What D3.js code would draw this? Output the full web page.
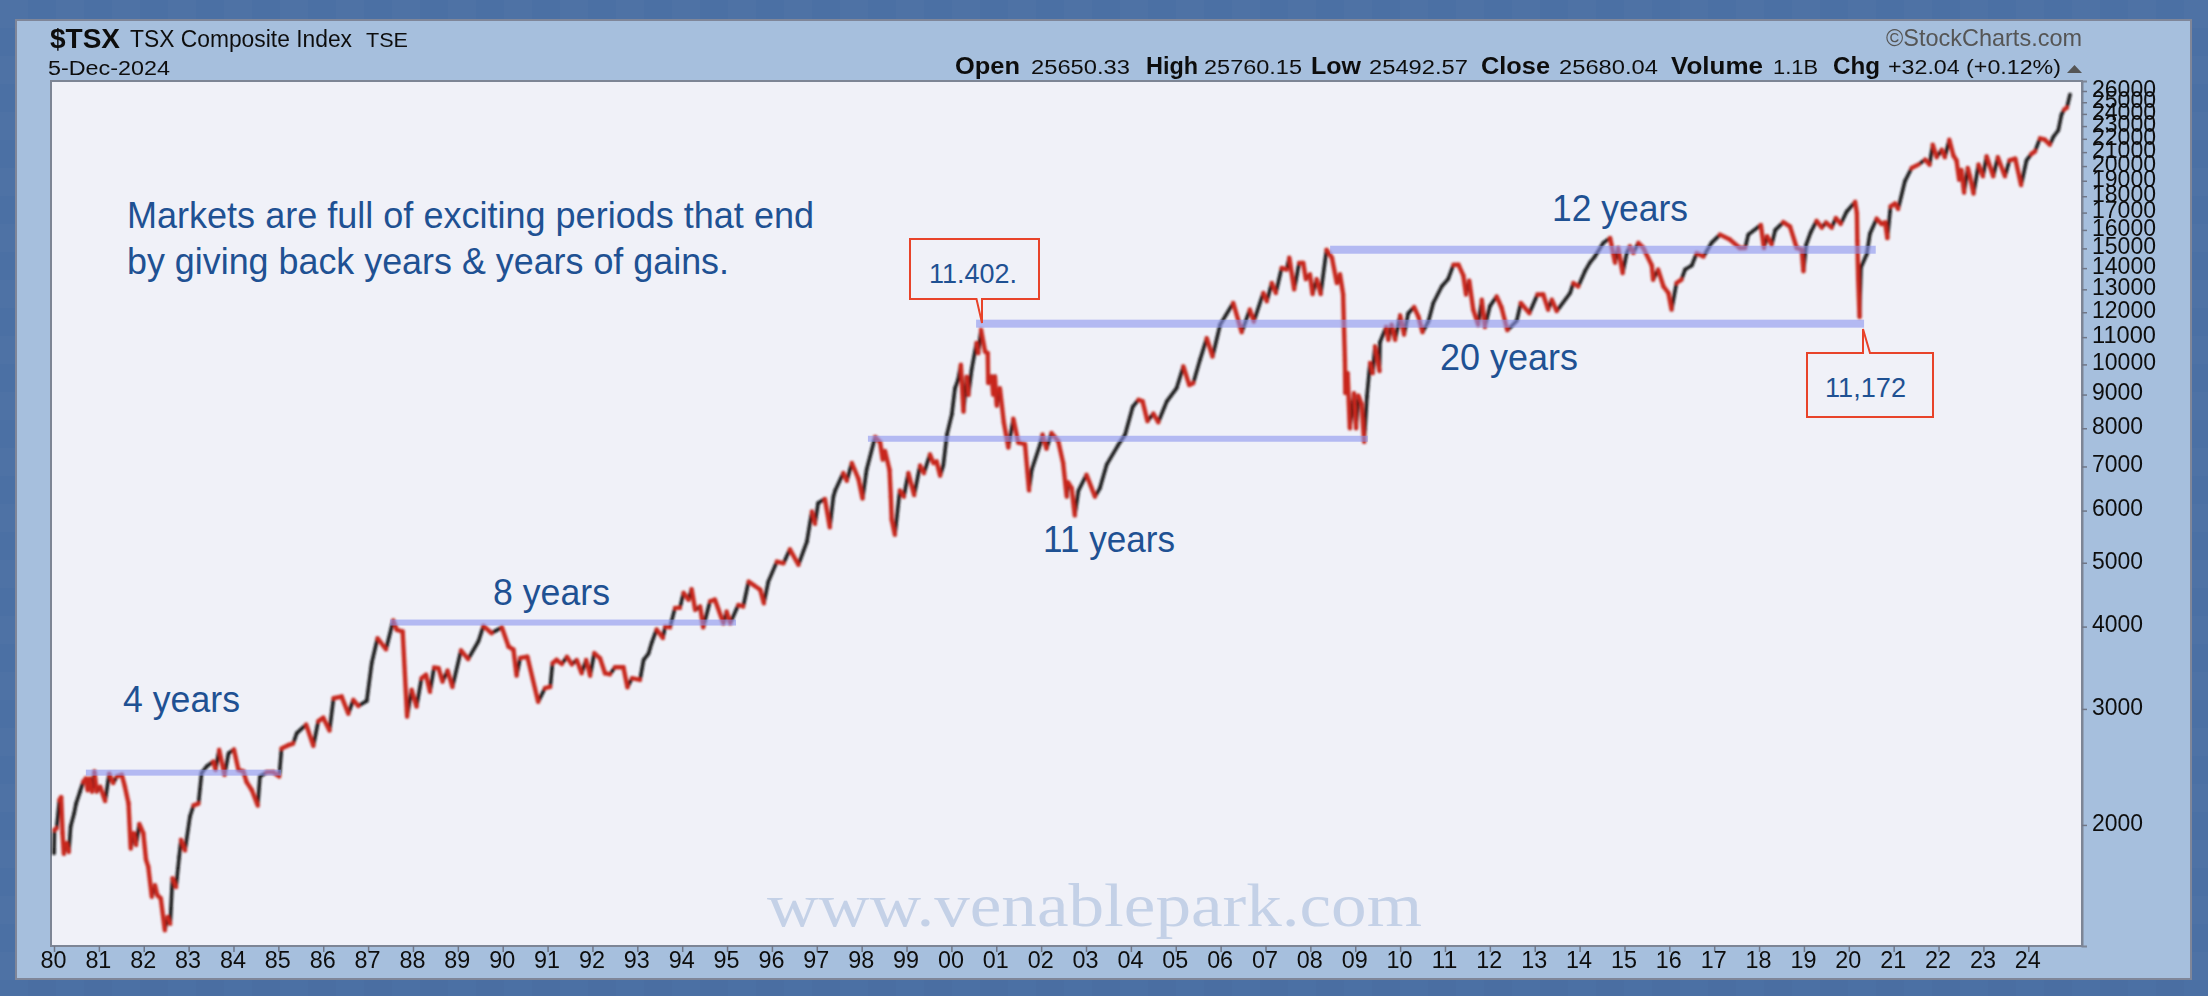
<!DOCTYPE html>
<html><head><meta charset="utf-8">
<style>html,body{margin:0;padding:0;background:#4b70a4;overflow:hidden}svg{display:block}
text{font-family:"Liberation Sans",Arial,sans-serif}</style>
<script src="https://cdn.jsdelivr.net/npm/d3@7/dist/d3.min.js"></script></head><body>
<script>
// [decimal year, index level]
const closes1980s=[[1980.00,1810],[1980.01,1966],[1980.06,1977],[1980.12,2183],[1980.16,2203],[1980.19,1943],[1980.22,1808],[1980.28,1876],[1980.33,1820],[1980.37,1989],[1980.45,2084],[1980.49,2153],[1980.58,2247],[1980.65,2325],[1980.71,2352],[1980.75,2258],[1980.80,2352],[1980.85,2247],[1980.90,2411],[1980.95,2247],[1981.03,2286],[1981.14,2175],[1981.23,2391],[1981.32,2315],[1981.40,2369],[1981.51,2383],[1981.58,2286],[1981.66,2158],[1981.71,1842],[1981.78,1943],[1981.83,1865],[1981.90,2007],[1981.99,1943],[1982.05,1772],[1982.10,1729],[1982.18,1556],[1982.25,1620],[1982.30,1565],[1982.38,1547],[1982.47,1384],[1982.53,1449],[1982.59,1416],[1982.64,1660],[1982.72,1610],[1982.79,1790],[1982.83,1898],[1982.92,1830],[1983.03,2060],[1983.11,2142],[1983.22,2155],[1983.29,2400],[1983.40,2453],[1983.55,2496],[1983.60,2425],[1983.68,2600],[1983.80,2383],[1983.89,2568],[1984.01,2604],[1984.11,2425],[1984.22,2411],[1984.29,2325],[1984.41,2258],[1984.54,2140],[1984.59,2369],[1984.74,2405],[1984.89,2405],[1985.02,2369],[1985.07,2612],[1985.22,2643],[1985.33,2658],[1985.41,2756],[1985.62,2840],[1985.78,2637],[1985.89,2874],[1986.00,2908],[1986.14,2782],[1986.23,3114],[1986.41,3132],[1986.56,2951],[1986.67,3096],[1986.78,3031],[1986.97,3085],[1987.08,3520],[1987.21,3840],[1987.40,3695],[1987.56,4086],[1987.64,3955],[1987.77,3932],[1987.87,2921],[1987.97,3207],[1988.08,3025],[1988.19,3340],[1988.29,3380],[1988.38,3185],[1988.47,3467],[1988.57,3460],[1988.66,3300],[1988.77,3430],[1988.88,3240],[1989.07,3680],[1989.23,3570],[1989.46,3800],[1989.57,4010],[1989.75,3909],[1989.98,3990]];
const closes1990s=[[1990.13,3730],[1990.24,3690],[1990.31,3370],[1990.39,3585],[1990.55,3600],[1990.79,3075],[1990.94,3225],[1991.06,3240],[1991.11,3520],[1991.20,3560],[1991.32,3510],[1991.43,3600],[1991.54,3505],[1991.65,3560],[1991.76,3399],[1991.86,3560],[1991.95,3370],[1992.04,3645],[1992.17,3580],[1992.28,3399],[1992.39,3385],[1992.50,3470],[1992.69,3470],[1992.78,3235],[1992.88,3340],[1993.06,3320],[1993.14,3560],[1993.25,3640],[1993.32,3780],[1993.43,3960],[1993.57,3845],[1993.62,4000],[1993.73,3990],[1993.84,4270],[1993.95,4270],[1994.03,4500],[1994.14,4395],[1994.21,4560],[1994.29,4240],[1994.40,4291],[1994.47,3990],[1994.62,4370],[1994.73,4395],[1994.92,4048],[1994.99,4215],[1995.07,4048],[1995.25,4315],[1995.36,4291],[1995.48,4680],[1995.59,4625],[1995.74,4549],[1995.82,4340],[1995.92,4680],[1996.11,5020],[1996.26,4990],[1996.40,5240],[1996.59,4965],[1996.78,5385],[1996.89,5980],[1996.96,5730],[1997.03,6160],[1997.18,6250],[1997.29,5660],[1997.37,6300],[1997.41,6435],[1997.59,6840],[1997.67,6660],[1997.78,7085],[1997.93,6700],[1998.02,6260],[1998.11,6920],[1998.30,7760],[1998.41,7620],[1998.47,7170],[1998.52,7390],[1998.62,6920],[1998.65,6300],[1998.67,5815],[1998.74,5515],[1998.85,6435],[1998.94,6300],[1999.04,6840],[1999.17,6335],[1999.30,7020],[1999.39,6840],[1999.52,7300],[1999.60,7085],[1999.67,7120],[1999.75,6780],[1999.82,7030],[1999.90,7825]];
const closes2000s=[[2000.01,8400],[2000.08,9200],[2000.15,9480],[2000.21,9990],[2000.27,8480],[2000.34,9580],[2000.38,8990],[2000.45,9815],[2000.56,10780],[2000.60,10400],[2000.66,11290],[2000.75,10460],[2000.81,10400],[2000.82,9370],[2000.90,9590],[2000.93,9000],[2000.97,9590],[2001.01,8660],[2001.08,9200],[2001.17,8150],[2001.27,7480],[2001.38,8270],[2001.49,7610],[2001.64,7570],[2001.73,6440],[2001.79,6920],[2001.98,7570],[2002.03,7825],[2002.12,7450],[2002.23,7867],[2002.38,7650],[2002.49,7085],[2002.57,6300],[2002.60,6620],[2002.68,6490],[2002.75,5900],[2002.83,6430],[2003.01,6800],[2003.20,6300],[2003.31,6490],[2003.46,7045],[2003.72,7550],[2003.87,7820],[2004.04,8620],[2004.17,8839],[2004.26,8790],[2004.37,8200],[2004.50,8420],[2004.61,8170],[2004.80,8790],[2005.02,9207],[2005.17,9931],[2005.30,9310],[2005.39,9365],[2005.54,10160],[2005.69,10960],[2005.82,10280],[2005.99,11490],[2006.28,12395],[2006.47,11190],[2006.65,12110],[2006.74,11620],[2006.95,12835],[2007.03,12470],[2007.14,13290],[2007.23,12835],[2007.36,14010],[2007.47,13930],[2007.53,14520],[2007.64,13000],[2007.75,14260],[2007.84,14260],[2007.90,13470],[2007.99,13700],[2008.05,12790],[2008.14,13470],[2008.23,12790],[2008.36,14930],[2008.48,14520],[2008.59,13290],[2008.66,13700],[2008.73,12770],[2008.75,11340],[2008.77,10150],[2008.78,9050],[2008.83,9700],[2008.88,8000],[2008.97,9040],[2009.02,8000],[2009.07,8965],[2009.14,8710],[2009.20,7630],[2009.26,8930],[2009.33,10050],[2009.39,9700],[2009.44,10650],[2009.54,9770],[2009.55,10800],[2009.69,11400],[2009.74,10900],[2009.81,11490],[2009.89,10900]];
const closes2010s=[[2010.00,11870],[2010.09,11100],[2010.18,11950],[2010.31,12220],[2010.41,11810],[2010.50,11190],[2010.63,11620],[2010.74,12395],[2010.93,13140],[2011.07,13470],[2011.19,14170],[2011.30,14170],[2011.41,13640],[2011.47,12770],[2011.54,13400],[2011.63,12110],[2011.74,11490],[2011.82,12539],[2011.89,11400],[2012.00,12250],[2012.15,12680],[2012.26,12200],[2012.39,11270],[2012.60,11650],[2012.69,12395],[2012.88,11960],[2013.06,12770],[2013.19,12770],[2013.30,12110],[2013.38,12539],[2013.49,12050],[2013.79,12834],[2013.86,13290],[2013.97,13130],[2014.12,13850],[2014.23,14270],[2014.34,14580],[2014.53,15290],[2014.68,15560],[2014.79,14270],[2014.86,15020],[2014.96,13760],[2015.05,14750],[2015.12,15109],[2015.20,14770],[2015.31,15290],[2015.42,15020],[2015.61,14130],[2015.64,13446],[2015.75,13930],[2015.87,13130],[2015.98,12834],[2016.05,12110],[2016.16,13290],[2016.27,13446],[2016.35,13930],[2016.50,14130],[2016.61,14750],[2016.76,14580],[2016.94,15290],[2017.13,15740],[2017.35,15470],[2017.57,15020],[2017.69,15020],[2017.76,15740],[2018.04,16280],[2018.11,15020],[2018.18,15650],[2018.28,15200],[2018.36,15990],[2018.54,16440],[2018.69,16190],[2018.84,15020],[2018.95,14940],[2018.99,13850],[2019.05,15200],[2019.15,15860],[2019.28,16510],[2019.40,16130],[2019.49,16420],[2019.62,16130],[2019.71,16680],[2019.82,16340],[2019.95,17050]];
const closes2020s=[[2020.14,17650],[2020.18,16975],[2020.19,15400],[2020.21,13446],[2020.24,11800],[2020.27,14030],[2020.40,14700],[2020.47,15790],[2020.62,16640],[2020.73,16340],[2020.81,16420],[2020.86,15550],[2020.93,17370],[2021.03,17540],[2021.10,17220],[2021.25,18970],[2021.40,19870],[2021.55,20100],[2021.70,20460],[2021.80,20100],[2021.87,21550],[2021.96,20630],[2022.07,21180],[2022.14,20630],[2022.24,21930],[2022.33,20750],[2022.40,20400],[2022.46,19073],[2022.51,19730],[2022.57,18230],[2022.65,19870],[2022.70,19300],[2022.78,18170],[2022.89,20100],[2022.99,19300],[2023.07,20700],[2023.22,19300],[2023.32,20630],[2023.48,19300],[2023.58,20400],[2023.71,20520],[2023.84,18720],[2023.96,20400],[2024.07,20870],[2024.15,21050],[2024.26,22040],[2024.37,21930],[2024.48,21550],[2024.56,22160],[2024.67,22670],[2024.74,23940],[2024.80,24370],[2024.86,24520],[2024.93,25680]];
const yearTicks=d3.range(1980,2025);
const priceTicks=[2000,3000,4000,5000,6000,7000,8000,9000,10000,11000,12000,13000,14000,15000,16000,17000,18000,19000,20000,21000,22000,23000,24000,25000,26000];
const priceTickLabels=priceTicks.map(String);
// [from year, to year, level, thickness]
const holdBars=[[1980.71,1985.06,2401,6],[1987.49,1995.20,4057,6],[1998.14,2009.28,7712,6],[2000.55,2020.34,11530,8],[2008.44,2020.60,14930,8]];
const yearNotes=[["4 years",123,712,117],["8 years",493,605,117],["11 years",1043,552,132],["20 years",1440,370,138],["12 years",1552,221,136]];
const headerBold=[["Open",955,65],["High",1146,52],["Low",1311,50],["Close",1481,69],["Volume",1671,92],["Chg",1833,47]];
const headerPlain=[["25650.33",1031,99],["25760.15",1204,98],["25492.57",1369,99],["25680.04",1559,99],["1.1B",1773,45],["+32.04 (+0.12%)",1888,173]];

const W=2208,H=996,pl=51,pr=2082,pt=81,pb=946;
const x=d3.scaleLinear().domain([1979.933,2025.197]).range([pl,pr]);
const y=d3.scaleLog().domain([1310,26925]).range([pb,pt]);
const closes=[...closes1980s,...closes1990s,...closes2000s,...closes2010s,...closes2020s];

const svg=d3.select("body").append("svg").attr("width",W).attr("height",H);
const defs=svg.append("defs");
const pat=defs.append("pattern").attr("id","tex").attr("width",56).attr("height",56).attr("patternUnits","userSpaceOnUse");
pat.append("rect").attr("width",56).attr("height",56).attr("fill","#4b70a4");
pat.append("rect").attr("width",28).attr("height",28).attr("fill","#4e72a5");
pat.append("rect").attr("x",28).attr("y",28).attr("width",28).attr("height",28).attr("fill","#4a6ea2");
defs.append("filter").attr("id","soft").append("feGaussianBlur").attr("stdDeviation",0.8);
defs.append("filter").attr("id","softer").append("feGaussianBlur").attr("stdDeviation",0.4);

svg.append("rect").attr("width",W).attr("height",H).attr("fill","url(#tex)");
svg.append("rect").attr("x",16).attr("y",20).attr("width",2175).attr("height",959).attr("fill","#a6bfdd").attr("stroke","#7f8699").attr("stroke-width",2);
svg.append("rect").attr("x",pl).attr("y",pt).attr("width",pr-pl).attr("height",pb-pt).attr("fill","#f0f1f8").attr("stroke","#7d8595").attr("stroke-width",2);

// watermark
svg.append("text").attr("x",767).attr("y",926).attr("font-size",62).attr("textLength",655).attr("lengthAdjust","spacingAndGlyphs")
 .style("font-family","'Liberation Serif',serif").attr("fill","#c4d1e7").text("www.venablepark.com");

// axes
const gx=svg.append("g").attr("transform",`translate(0,${pb})`).attr("filter","url(#softer)")
 .call(d3.axisBottom(x).tickValues(yearTicks).tickFormat(d=>String(d).slice(2)).tickSize(6).tickPadding(0));
gx.select(".domain").remove();
gx.selectAll("line").attr("stroke","#6f7686").attr("stroke-width",1.5);
gx.selectAll("text").attr("font-size",23).attr("fill","#111").attr("dx",-1).attr("textLength",26).attr("lengthAdjust","spacingAndGlyphs").style("font-family","'Liberation Sans',sans-serif");
const gy=svg.append("g").attr("transform",`translate(${pr},0)`).attr("filter","url(#softer)")
 .call(d3.axisRight(y).tickValues(priceTicks).tickFormat((d,i)=>priceTickLabels[i]).tickSize(5).tickPadding(5));
gy.select(".domain").attr("stroke","#7d8595").attr("stroke-width",2);
gy.selectAll("line").attr("stroke","#6f7686").attr("stroke-width",1.5);
gy.selectAll("text").attr("font-size",23).attr("y",-2).attr("fill","#111").attr("textLength",d=>d>=10000?64:51).attr("lengthAdjust","spacingAndGlyphs").style("font-family","'Liberation Sans',sans-serif");

// price line: black on clear rises, red on falls and flat stretches; red sits on top
const segs=d3.pairs(closes);
const rising=d=>d[1][1]/d[0][1]>1.012;
const lineG=svg.append("g").attr("filter","url(#soft)").attr("stroke-linecap","round");
const drawSegs=(rows,col,w)=>lineG.append("g").selectAll("line").data(rows).join("line")
 .attr("x1",d=>x(d[0][0])).attr("y1",d=>y(d[0][1])).attr("x2",d=>x(d[1][0])).attr("y2",d=>y(d[1][1]))
 .attr("stroke",col).attr("stroke-width",w);
drawSegs(segs.filter(rising),"#141414",3.6);
drawSegs(segs.filter(d=>!rising(d)),"#c8281e",4.4);

// translucent bars above the line
svg.append("g").selectAll("rect").data(holdBars).join("rect")
 .attr("x",d=>x(d[0])).attr("width",d=>x(d[1])-x(d[0])).attr("y",d=>y(d[2])-d[3]/2).attr("height",d=>d[3])
 .attr("fill","rgb(138,149,238)").attr("fill-opacity",0.6);

// header
const hdr=svg.append("g").attr("filter","url(#softer)").attr("fill","#111");
hdr.append("text").attr("x",50).attr("y",48).attr("font-size",28).attr("font-weight","bold").attr("textLength",70).attr("lengthAdjust","spacingAndGlyphs").text("$TSX");
hdr.append("text").attr("x",130).attr("y",47).attr("font-size",23).attr("textLength",222).attr("lengthAdjust","spacingAndGlyphs").text("TSX Composite Index");
hdr.append("text").attr("x",366).attr("y",47).attr("font-size",20).attr("textLength",42).attr("lengthAdjust","spacingAndGlyphs").text("TSE");
hdr.append("text").attr("x",48).attr("y",75).attr("font-size",20).attr("textLength",122).attr("lengthAdjust","spacingAndGlyphs").text("5-Dec-2024");
hdr.selectAll(".b").data(headerBold).join("text").attr("class","b").attr("x",d=>d[1]).attr("y",74).attr("font-size",23).attr("font-weight","bold").attr("textLength",d=>d[2]).attr("lengthAdjust","spacingAndGlyphs").text(d=>d[0]);
hdr.selectAll(".p").data(headerPlain).join("text").attr("class","p").attr("x",d=>d[1]).attr("y",74).attr("font-size",20).attr("textLength",d=>d[2]).attr("lengthAdjust","spacingAndGlyphs").text(d=>d[0]);
hdr.append("path").attr("d","M2067,73L2082,73L2074.5,65Z").attr("fill","#555");
hdr.append("text").attr("x",1886).attr("y",46).attr("font-size",24).attr("fill","#555").attr("textLength",196).attr("lengthAdjust","spacingAndGlyphs").text("©StockCharts.com");

// annotations
const blue="#1f5193";
const ann=svg.append("g").attr("fill",blue);
ann.append("text").attr("x",127).attr("y",228).attr("font-size",37).attr("textLength",687).attr("lengthAdjust","spacingAndGlyphs").text("Markets are full of exciting periods that end");
ann.append("text").attr("x",127).attr("y",274).attr("font-size",37).attr("textLength",602).attr("lengthAdjust","spacingAndGlyphs").text("by giving back years & years of gains.");
ann.selectAll(".n").data(yearNotes).join("text").attr("class","n").attr("x",d=>d[1]).attr("y",d=>d[2]).attr("font-size",37).attr("textLength",d=>d[3]).attr("lengthAdjust","spacingAndGlyphs").text(d=>d[0]);
ann.append("text").attr("x",929).attr("y",283).attr("font-size",27).attr("textLength",88).attr("lengthAdjust","spacingAndGlyphs").text("11.402.");
ann.append("text").attr("x",1825).attr("y",397).attr("font-size",27).attr("textLength",81).attr("lengthAdjust","spacingAndGlyphs").text("11,172");

const red="#e8432a";
svg.append("path").attr("fill","none").attr("stroke",red).attr("stroke-width",2)
 .attr("d","M910,239H1039V299H982V323L976.5,299H910Z");
svg.append("path").attr("fill","none").attr("stroke",red).attr("stroke-width",2)
 .attr("d","M1807,353H1863V329L1870,353H1933V417H1807Z");
</script></body></html>
